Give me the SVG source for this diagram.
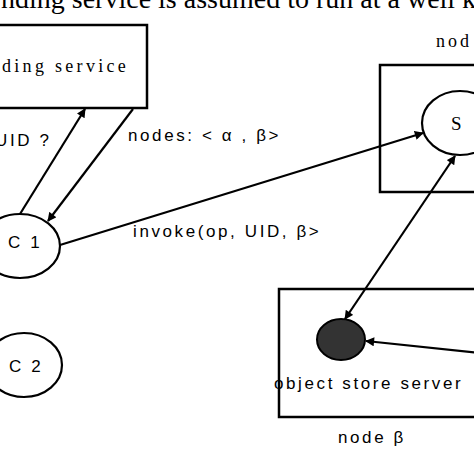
<svg xmlns="http://www.w3.org/2000/svg" width="474" height="474" viewBox="0 0 474 474">
<style>
.box{fill:#fff;stroke:#000;stroke-width:2.5}
.ell{fill:#fff;stroke:#000;stroke-width:2.2}
.dark{fill:#333;stroke:#000;stroke-width:2}
.ln{fill:none;stroke:#000;stroke-width:2.2}
.serif{font-family:"Liberation Serif","Times New Roman",serif;fill:#000}
.sans{font-family:"Liberation Sans",Arial,sans-serif;fill:#000;font-size:17px;letter-spacing:2.6px}
</style>
<defs>
<marker id="ah" viewBox="0 0 10 10" refX="9" refY="5" markerWidth="10" markerHeight="9" markerUnits="userSpaceOnUse" orient="auto-start-reverse">
<path d="M0,0 L10,5 L0,10 z" fill="#000"/>
</marker>
</defs>
<rect width="474" height="474" fill="#fff"/>
<text class="serif" x="1" y="8" font-size="28">nding service is assumed to run at a well k</text>
<g id="binding">
<rect class="box" x="-150" y="25" width="297" height="83"/>
<text class="serif" x="2" y="72" font-size="18" letter-spacing="3.3">ding service</text>
</g>
<g id="nodeAlpha">
<text class="serif" x="436" y="47" font-size="18" letter-spacing="3">nod</text>
<rect class="box" x="380" y="65" width="120" height="127"/>
</g>
<g id="S">
<ellipse class="ell" cx="460" cy="123" rx="38" ry="32"/>
<text class="serif" x="451" y="130" font-size="19">S</text>
</g>
<g id="C1">
<ellipse class="ell" cx="20" cy="246" rx="40" ry="32"/>
<text class="sans" x="8" y="248">C 1</text>
</g>
<g id="C2">
<ellipse class="ell" cx="24" cy="365" rx="38" ry="32"/>
<text class="sans" x="9" y="372">C 2</text>
</g>
<g id="nodeBeta">
<rect class="box" x="279" y="289" width="220" height="128"/>
<text class="sans" x="338" y="443">node β</text>
</g>
<g id="objstore">
<ellipse class="dark" cx="341" cy="339.5" rx="24" ry="20.5"/>
<text class="sans" x="274" y="389" letter-spacing="2.6">object store server</text>
</g>
<g id="connectors">
<line class="ln" x1="20" y1="214" x2="85" y2="109" marker-end="url(#ah)"/>
<line class="ln" x1="133" y1="109" x2="48" y2="221" marker-end="url(#ah)"/>
<line class="ln" x1="60" y1="245" x2="423" y2="133" marker-end="url(#ah)"/>
<line class="ln" x1="455" y1="156" x2="345" y2="319" marker-start="url(#ah)" marker-end="url(#ah)"/>
<line class="ln" x1="480" y1="353" x2="366" y2="341" marker-end="url(#ah)"/>
</g>
<g id="labels">
<text class="sans" x="-5" y="146">UID ?</text>
<text class="sans" x="128" y="141" letter-spacing="1.8">nodes: &lt; α , β&gt;</text>
<text class="sans" x="133" y="237" letter-spacing="3">invoke(op, UID, β&gt;</text>
</g>
</svg>
